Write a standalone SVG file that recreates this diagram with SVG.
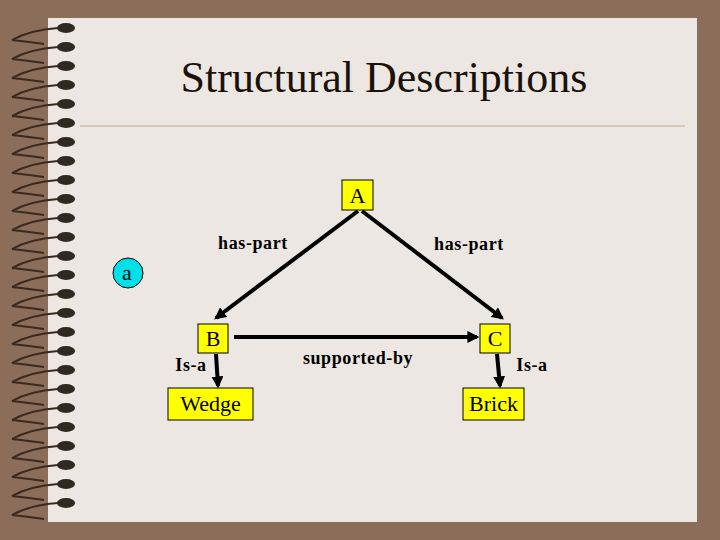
<svg xmlns="http://www.w3.org/2000/svg" width="720" height="540" viewBox="0 0 720 540">
<defs>
<style>
.box{fill:#ffff00;stroke:#000;stroke-width:1}
.lbl{font-family:"Liberation Serif",serif;font-size:22px;fill:#000;text-anchor:middle}
.edge{font-family:"Liberation Serif",serif;font-size:18px;font-weight:bold;fill:#000;text-anchor:middle;letter-spacing:0.6px}
.c{stroke:#000;stroke-width:4;fill:none;marker-end:url(#ah)}
.wire{stroke:#3a2a20;stroke-width:2;fill:none}
</style>
<marker id="ah" viewBox="0 0 10 10" refX="8" refY="5" markerWidth="3" markerHeight="3" orient="auto"><path d="M0,0L10,5L0,10z" fill="#000"/></marker>
<g id="ring"><path class="wire" d="M58,0 Q30,2 12,12"/><path class="wire" d="M12,12 Q30,14 44,16" stroke-width="1.5"/><ellipse cx="66" cy="0" rx="9" ry="5" fill="#2e2a22"/></g>
</defs>
<rect width="720" height="540" fill="#8b6d5a"/>
<rect x="48" y="18" width="649" height="504" fill="#ece7e2"/>
<g id="binding">
<use href="#ring" y="28"/><use href="#ring" y="47"/><use href="#ring" y="66"/><use href="#ring" y="85"/><use href="#ring" y="104"/><use href="#ring" y="123"/><use href="#ring" y="142"/><use href="#ring" y="161"/><use href="#ring" y="180"/><use href="#ring" y="199"/><use href="#ring" y="218"/><use href="#ring" y="237"/><use href="#ring" y="256"/><use href="#ring" y="275"/><use href="#ring" y="294"/><use href="#ring" y="313"/><use href="#ring" y="332"/><use href="#ring" y="351"/><use href="#ring" y="370"/><use href="#ring" y="389"/><use href="#ring" y="408"/><use href="#ring" y="427"/><use href="#ring" y="446"/><use href="#ring" y="465"/><use href="#ring" y="484"/><use href="#ring" y="503"/>
</g>
<text x="384" y="92" font-family="Liberation Serif,serif" font-size="44" fill="#1a1208" text-anchor="middle">Structural Descriptions</text>
<line x1="80" y1="126" x2="685" y2="126" stroke="#d4bf9e" stroke-width="1.5"/>
<g id="connectors">
<line class="c" x1="358" y1="211" x2="216" y2="318"/>
<line class="c" x1="362" y1="211" x2="502" y2="318"/>
<line class="c" x1="234" y1="337" x2="477" y2="337"/>
<line class="c" x1="216" y1="354" x2="218" y2="386"/>
<line class="c" x1="497" y1="354" x2="500" y2="386"/>
<text class="edge" x="253" y="249">has-part</text>
<text class="edge" x="469" y="250">has-part</text>
<text class="edge" x="358" y="364">supported-by</text>
<text class="edge" x="191" y="371">Is-a</text>
<text class="edge" x="532" y="371">Is-a</text>
</g>
<g id="A"><rect class="box" x="342" y="180" width="31" height="30"/><text class="lbl" x="357.5" y="203">A</text></g>
<g id="B"><rect class="box" x="198" y="324" width="30" height="29"/><text class="lbl" x="213" y="346">B</text></g>
<g id="C"><rect class="box" x="480" y="324" width="30" height="29"/><text class="lbl" x="495" y="346">C</text></g>
<g id="Wedge"><rect class="box" x="168" y="388" width="85" height="32"/><text class="lbl" x="210.5" y="411">Wedge</text></g>
<g id="Brick"><rect class="box" x="463" y="388" width="61" height="32"/><text class="lbl" x="493.5" y="411">Brick</text></g>
<g id="a"><circle cx="128" cy="273" r="15" fill="#00e0e8" stroke="#000" stroke-width="1"/><text class="lbl" x="127" y="280">a</text></g>
</svg>
